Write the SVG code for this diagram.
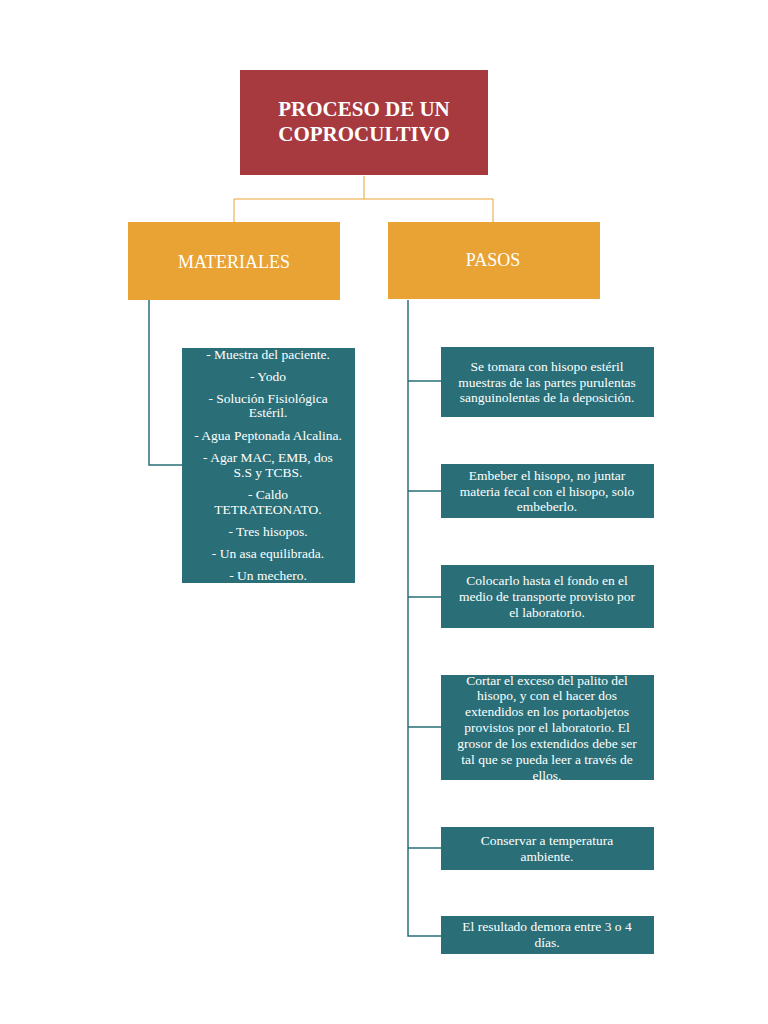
<svg xmlns="http://www.w3.org/2000/svg" width="768" height="1024" viewBox="0 0 768 1024">
<style>
.t{fill:#fff;font-family:"Liberation Serif",serif;text-anchor:middle}
.s{font-size:13.5px}
.b{fill:#2a6f78}
.o{fill:#e9a334}
.c{fill:none;stroke:#2a6f78;stroke-width:1.5}
</style>
<rect width="768" height="1024" fill="#fff"/>
<g id="connectors">
<path d="M364 176V199H234V222M364 199H493V222" fill="none" stroke="#e9a334" stroke-width="1"/>
<path class="c" d="M149 300V465H182"/>
<path class="c" d="M408 300V936H441M408 381H441M408 491H441M408 597H441M408 727H441M408 848H441"/>
</g>
<g id="title"><rect x="240" y="70" width="248" height="105" fill="#a73a3e"/>
<text class="t" font-size="21" font-weight="bold"><tspan x="364" y="116">PROCESO DE UN</tspan><tspan x="364" y="141">COPROCULTIVO</tspan></text></g>
<g id="materiales"><rect class="o" x="128" y="222" width="212" height="78"/><text class="t" x="234" y="268" font-size="18">MATERIALES</text></g>
<g id="pasos"><rect class="o" x="388" y="222" width="212" height="77"/><text class="t" x="493" y="266" font-size="18">PASOS</text></g>
<g id="lista"><rect class="b" x="182" y="348" width="173" height="235"/>
<text class="t s"><tspan x="268" y="359">- Muestra del paciente.</tspan><tspan x="268" y="381">- Yodo</tspan><tspan x="268" y="403">- Solución Fisiológica</tspan><tspan x="268" y="417">Estéril.</tspan><tspan x="268" y="440">- Agua Peptonada Alcalina.</tspan><tspan x="268" y="462">- Agar MAC, EMB, dos</tspan><tspan x="268" y="477">S.S y TCBS.</tspan><tspan x="268" y="499">- Caldo</tspan><tspan x="268" y="514">TETRATEONATO.</tspan><tspan x="268" y="536">- Tres hisopos.</tspan><tspan x="268" y="558">- Un asa equilibrada.</tspan><tspan x="268" y="580">- Un mechero.</tspan></text></g>
<g id="p1"><rect class="b" x="441" y="347" width="213" height="70"/><text class="t s"><tspan x="547" y="371">Se tomara con hisopo estéril</tspan><tspan x="547" y="387">muestras de las partes purulentas</tspan><tspan x="547" y="402">sanguinolentas de la deposición.</tspan></text></g>
<g id="p2"><rect class="b" x="441" y="464" width="213" height="54"/><text class="t s"><tspan x="547" y="480">Embeber el hisopo, no juntar</tspan><tspan x="547" y="496">materia fecal con el hisopo, solo</tspan><tspan x="547" y="511">embeberlo.</tspan></text></g>
<g id="p3"><rect class="b" x="441" y="565" width="213" height="63"/><text class="t s"><tspan x="547" y="585">Colocarlo hasta el fondo en el</tspan><tspan x="547" y="601">medio de transporte provisto por</tspan><tspan x="547" y="617">el laboratorio.</tspan></text></g>
<g id="p4"><rect class="b" x="441" y="675" width="213" height="105"/><text class="t s"><tspan x="547" y="685">Cortar el exceso del palito del</tspan><tspan x="547" y="700">hisopo, y con el hacer dos</tspan><tspan x="547" y="716">extendidos en los portaobjetos</tspan><tspan x="547" y="732">provistos por el laboratorio. El</tspan><tspan x="547" y="748">grosor de los extendidos debe ser</tspan><tspan x="547" y="764">tal que se pueda leer a través de</tspan><tspan x="547" y="780">ellos.</tspan></text></g>
<g id="p5"><rect class="b" x="441" y="827" width="213" height="43"/><text class="t s"><tspan x="547" y="845">Conservar a temperatura</tspan><tspan x="547" y="861">ambiente.</tspan></text></g>
<g id="p6"><rect class="b" x="441" y="916" width="213" height="38"/><text class="t s"><tspan x="547" y="931">El resultado demora entre 3 o 4</tspan><tspan x="547" y="947">días.</tspan></text></g>
</svg>
